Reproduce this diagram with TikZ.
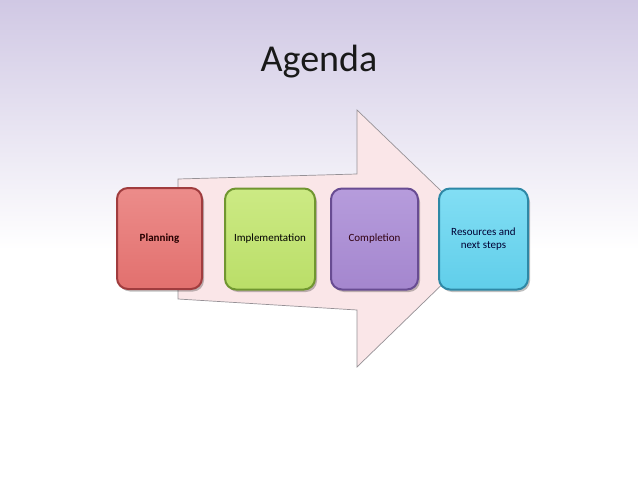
\documentclass[tikz,border=0pt]{standalone}
\usepackage{fontspec}
\setmainfont{Carlito}
\usetikzlibrary{shadows}
\definecolor{bgtop}{RGB}{208,200,228}
\definecolor{arrowfill}{RGB}{250,230,232}
\definecolor{arrowline}{RGB}{150,145,150}
\definecolor{redfill}{RGB}{226,112,110}
\definecolor{redtop}{RGB}{236,140,138}
\definecolor{redline}{RGB}{160,60,62}
\definecolor{greenfill}{RGB}{186,222,104}
\definecolor{greentop}{RGB}{204,234,132}
\definecolor{greenline}{RGB}{112,150,48}
\definecolor{purplefill}{RGB}{164,134,206}
\definecolor{purpletop}{RGB}{182,156,220}
\definecolor{purpleline}{RGB}{104,76,146}
\definecolor{bluefill}{RGB}{96,206,234}
\definecolor{bluetop}{RGB}{130,222,244}
\definecolor{blueline}{RGB}{46,136,166}
\tikzset{
  stepbox/.style={rectangle, rounded corners=11pt, line width=2pt,
    minimum width=86pt, minimum height=101pt, inner sep=2pt,
    align=center, font=\fontsize{11}{13}\selectfont,
    drop shadow={shadow xshift=2pt, shadow yshift=-2.5pt, fill=black, opacity=0.25}},
  title/.style={font=\fontsize{38}{40}\selectfont, text=black!90}
}
\begin{document}
\begin{tikzpicture}[x=1pt,y=-1pt]
\useasboundingbox (0,0) rectangle (638,479);
\fill[white] (0,0) rectangle (638,479);
\shade[top color=bgtop, bottom color=white] (0,0) rectangle (638,250);
\node[title] (title) at (319,62) {Agenda};
% big arrow
\draw[fill=arrowfill, draw=arrowline, line width=0.7pt]
  (178,179) -- (357,174) -- (357,110) -- (490,238) -- (357,367) -- (357,310) -- (178,299) -- cycle;
% steps
\node[stepbox, draw=redline, top color=redtop, bottom color=redfill, minimum width=85pt, font=\fontsize{11}{13}\selectfont\bfseries, text=black!85!red] (plan) at (159.5,238.5) {Planning};
\node[stepbox, draw=greenline, top color=greentop, bottom color=greenfill, minimum width=90pt] (impl) at (270,239) {Implementation};
\node[stepbox, draw=purpleline, top color=purpletop, bottom color=purplefill, minimum width=87pt, text=black!75!purple] (comp) at (374.5,239) {Completion};
\node[stepbox, draw=blueline, top color=bluetop, bottom color=bluefill, minimum width=89pt, text=black!80!blue] (res) at (483.5,239) {Resources and\\next steps};
\end{tikzpicture}
\end{document}
